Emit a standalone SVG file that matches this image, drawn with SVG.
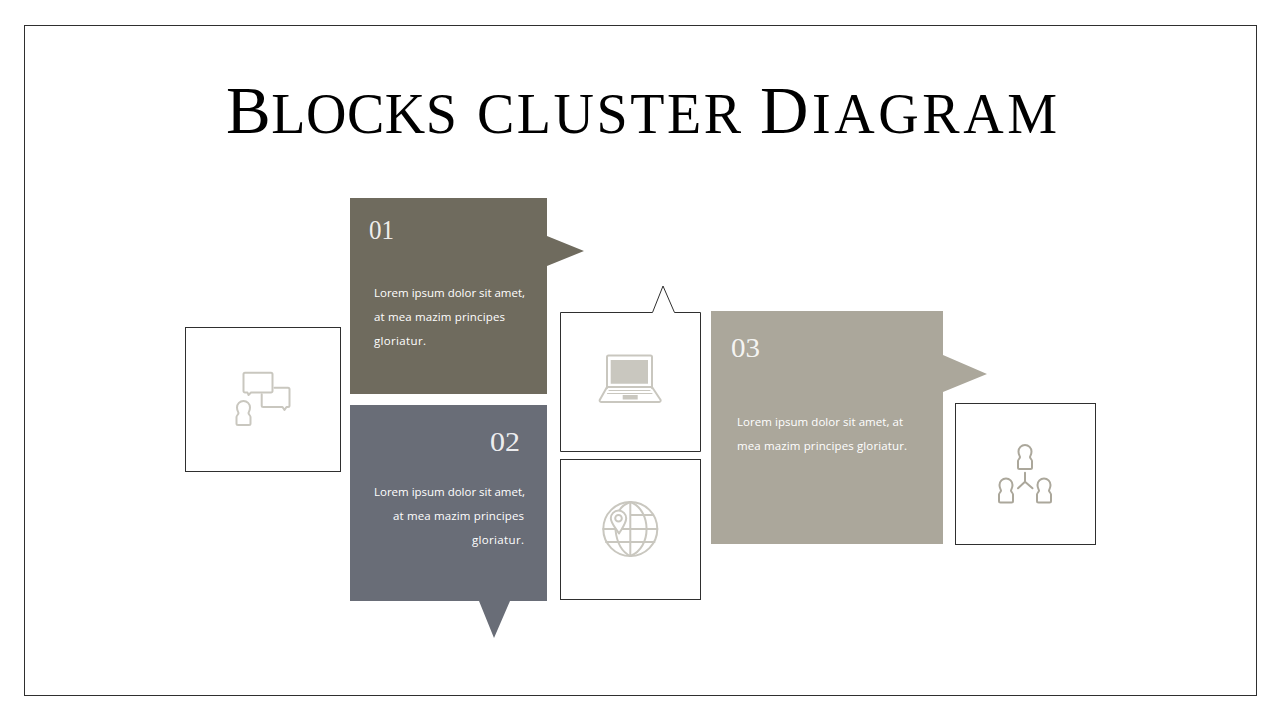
<svg xmlns="http://www.w3.org/2000/svg" width="1280" height="720" viewBox="0 0 1280 720">
<style>
.frame{fill:#fff;stroke:#2f2f2f;stroke-width:1}
.title{font-family:"Liberation Serif",serif;font-size:67px;fill:#000}
.sc{font-size:80px;font-variant:small-caps}
.num{font-family:"Liberation Serif",serif;font-size:28px;fill:#fff;fill-opacity:.9}
.body{font-family:"Open Sans","Noto Sans",sans-serif;font-size:11.5px;fill:#fff}
.icon{fill:none;stroke:#c9c7bf;stroke-width:2;stroke-linejoin:round;stroke-linecap:round}
.icon2{fill:none;stroke:#aba79b;stroke-width:2;stroke-linejoin:round;stroke-linecap:round}
</style>
<defs>
<path id="person" d="M2 24.500H13a1.500 1.500 0 0 0 1.500-1.500V16.500c0-1.500-2-2.500-2-4c0-1 1.500-2 1.500-5.500a6.500 6.500 0 0 0-13 0c0 3.500 1.500 4.500 1.500 5.500c0 1.500-2 2.500-2 4V23a1.500 1.500 0 0 0 1.500 1.500Z"/>
</defs>
<rect width="1280" height="720" fill="#fff"/>
<rect class="frame" x="24.500" y="25.500" width="1232" height="670"/>
<text id="title" class="title" y="133"><tspan x="226" textLength="231" lengthAdjust="spacing">B<tspan class="sc">locks</tspan></tspan> <tspan class="sc" x="477" textLength="264" lengthAdjust="spacing">cluster</tspan> <tspan x="760" textLength="297" lengthAdjust="spacing">D<tspan class="sc">iagram</tspan></tspan></text>

<g id="node-chat">
<rect class="frame" x="185.500" y="327.500" width="155" height="144"/>
<g class="icon">
<path d="M245 372.800H271a1.500 1.500 0 0 1 1.500 1.500V391a1.500 1.500 0 0 1-1.500 1.500H251L248.500 395L247.500 392.500H245a1.500 1.500 0 0 1-1.500-1.500V374.300a1.500 1.500 0 0 1 1.500-1.500Z"/>
<path d="M274.500 387.700H288a1.500 1.500 0 0 1 1.500 1.500V405.500a1.500 1.500 0 0 1-1.500 1.500H286.500L284.500 410L282.500 407H263.200a1.500 1.500 0 0 1-1.500-1.500V394.200"/>
<use href="#person" x="236" y="400.500"/>
</g>
</g>

<g id="node-01">
<path d="M350 198H547V236L584 251L547 266V394H350Z" fill="#6f6b5e"/>
<text class="num" x="369" y="239" textLength="25" lengthAdjust="spacingAndGlyphs">01</text>
<text class="body" x="374" y="297" textLength="151">Lorem ipsum dolor sit amet,</text>
<text class="body" x="374" y="321" textLength="131">at mea mazim principes</text>
<text class="body" x="374" y="345" textLength="52">gloriatur.</text>
</g>

<g id="node-02">
<path d="M350 405H547V601H510L494 638L479 601H350Z" fill="#696d77"/>
<text class="num" x="490" y="451" textLength="30" lengthAdjust="spacingAndGlyphs">02</text>
<text class="body" x="374" y="496" textLength="151">Lorem ipsum dolor sit amet,</text>
<text class="body" x="393" y="520" textLength="131">at mea mazim principes</text>
<text class="body" x="472" y="544" textLength="52">gloriatur.</text>
</g>

<g id="node-laptop">
<path class="frame" d="M560.500 312.500H652.500L663 286L674.500 312.500H700.500V451.500H560.500Z"/>
<path d="M610.700 360H648V383.700H610.700Z" fill="#c9c7bf"/>
<g class="icon">
<path d="M607 388V357a1.500 1.500 0 0 1 1.500-1.500H650.500a1.500 1.500 0 0 1 1.500 1.500V388"/>
<path d="M607 387H652L660.300 399.500a1.500 1.500 0 0 1-1.200 2.500H601.200a1.500 1.500 0 0 1-1.200-2.500Z"/>
<path d="M609 390.500H650M607.500 393.500H652" stroke-width="1"/>
</g>
<path d="M622.700 395H637.700V399.500H622.700Z" fill="#c9c7bf"/>
</g>

<g id="node-globe">
<rect class="frame" x="560.500" y="459.500" width="140" height="140"/>
<g class="icon">
<circle cx="630.300" cy="529" r="27"/>
<path d="M630.300 502V556M603.300 529H657.300M606 542H654.500M630.300 515H653"/>
<path d="M630.300 502C652 510 652 548 630.300 556"/>
<path d="M630.300 502C625 504 621 507 619 511M630.300 556C622 552 617 544 615.500 530"/>
<path d="M619 533.500C615 527 610.800 523 610.800 518.300a7.700 7.700 0 0 1 15.400 0C626.200 523 623 527 619 533.500Z" fill="#fff"/>
<circle cx="618.500" cy="518.300" r="3.300"/>
</g>
</g>

<g id="node-03">
<path d="M711 311H943V355L987 374L943 392V544H711Z" fill="#aba79b"/>
<text class="num" x="731" y="357" textLength="29" lengthAdjust="spacingAndGlyphs">03</text>
<text class="body" x="737" y="426" textLength="166">Lorem ipsum dolor sit amet, at</text>
<text class="body" x="737" y="450" textLength="170">mea mazim principes gloriatur.</text>
</g>

<g id="node-network">
<rect class="frame" x="955.500" y="403.500" width="140" height="141"/>
<g class="icon2">
<use href="#person" x="1017.500" y="444.500"/>
<use href="#person" x="998.500" y="478"/>
<use href="#person" x="1036.500" y="478"/>
<path d="M1025 472.700V481.700M1025 481.700L1018 488.300M1025 481.700L1032.500 488.300"/>
</g>
</g>
</svg>
